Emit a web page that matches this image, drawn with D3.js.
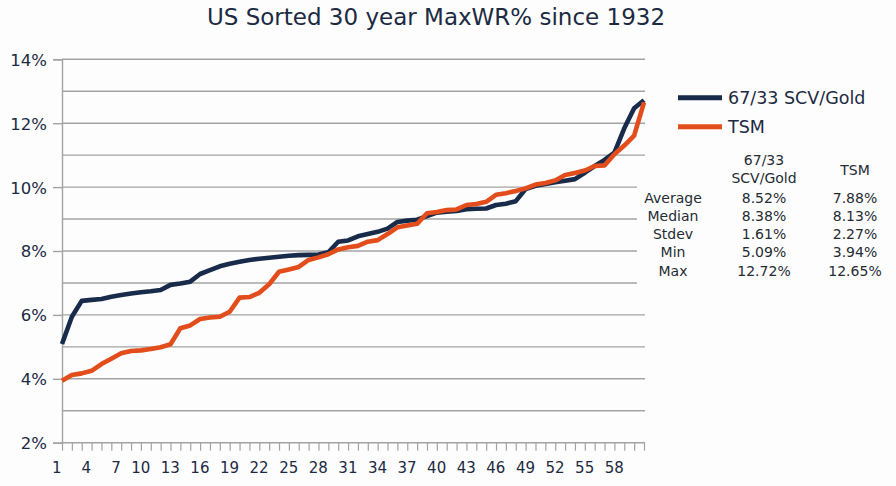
<!DOCTYPE html>
<html>
<head>
<meta charset="utf-8">
<script src="https://cdn.jsdelivr.net/npm/d3@7/dist/d3.min.js"></script>
<style>
  html, body { margin: 0; padding: 0; background: #fdfdfd; }
  svg { display: block; font-family: "DejaVu Sans", sans-serif; }
</style>
</head>
<body>
<svg id="chart" width="896" height="486"></svg>
<script>
const title = "US Sorted 30 year MaxWR% since 1932";
const categories = [1,2,3,4,5,6,7,8,9,10,11,12,13,14,15,16,17,18,19,20,
  21,22,23,24,25,26,27,28,29,30,31,32,33,34,35,36,37,38,39,40,
  41,42,43,44,45,46,47,48,49,50,51,52,53,54,55,56,57,58,59,60];
const xTickLabels = [1,4,7,10,13,16,19,22,25,28,31,34,37,40,43,46,49,52,55,58];
const yTickValues = [2,4,6,8,10,12,14];
const yGridValues = [3,4,5,6,7,8,9,10,11,12,13,14];

const seriesNames = ["67/33 SCV/Gold", "TSM"];
const scvGold = [5.09,5.94,6.44,6.47,6.50,6.57,6.62,6.67,6.71,6.74,
  6.78,6.94,6.98,7.04,7.28,7.40,7.52,7.60,7.66,7.72,
  7.76,7.79,7.82,7.85,7.87,7.88,7.89,7.96,8.29,8.33,
  8.46,8.53,8.60,8.70,8.91,8.95,8.98,9.09,9.20,9.23,
  9.25,9.31,9.32,9.33,9.44,9.48,9.56,9.94,10.04,10.10,
  10.15,10.20,10.25,10.45,10.66,10.85,11.08,11.84,12.47,12.72];
const tsm = [3.94,4.12,4.17,4.25,4.46,4.63,4.80,4.87,4.89,4.93,
  4.99,5.08,5.58,5.67,5.87,5.92,5.94,6.10,6.54,6.56,
  6.69,6.96,7.35,7.42,7.50,7.72,7.80,7.90,8.05,8.12,
  8.16,8.29,8.34,8.53,8.74,8.80,8.85,9.18,9.22,9.28,
  9.30,9.44,9.47,9.54,9.76,9.81,9.88,9.96,10.08,10.13,
  10.21,10.38,10.44,10.52,10.66,10.68,11.03,11.30,11.61,12.65];

const statLabels = ["Average","Median","Stdev","Min","Max"];
const statScv = ["8.52%","8.38%","1.61%","5.09%","12.72%"];
const statTsm = ["7.88%","8.13%","2.27%","3.94%","12.65%"];

const colors = ["#182b4b", "#e34c1b"];
const textColor = "#1c2a42";
const gridColor = "#a3a3a3";

const svg = d3.select("#chart");
const plotL = 62, plotR = 644, plotT = 59.3, plotB = 442.7;

const x = d3.scalePoint().domain(categories).range([plotL, plotR]);
const y = d3.scaleLinear().domain([2, 14]).range([plotB, plotT]);

// title
svg.append("text").attr("x", 436).attr("y", 25).attr("text-anchor", "middle")
  .attr("font-size", 23).attr("fill", textColor).text(title);

// gridlines
svg.append("g").selectAll("line").data(yGridValues).join("line")
  .attr("x1", plotL).attr("x2", plotR + 1)
  .attr("y1", d => y(d)).attr("y2", d => y(d))
  .attr("stroke", gridColor).attr("stroke-width", 1.4);

// y axis
const yAxis = svg.append("g").attr("transform", `translate(${plotL},0)`)
  .call(d3.axisLeft(y).tickValues(yTickValues).tickSize(9).tickPadding(6).tickFormat(d => d + "%"));
yAxis.select(".domain").attr("stroke", gridColor).attr("stroke-width", 1.4);
yAxis.selectAll(".tick line").attr("stroke", gridColor).attr("stroke-width", 1.4);
yAxis.selectAll(".tick text").attr("font-size", 16.5).attr("fill", textColor)
  .attr("font-family", "DejaVu Sans, sans-serif").attr("dy", "0.36em");

// x axis
const xAxis = svg.append("g").attr("transform", `translate(0,${plotB})`)
  .call(d3.axisBottom(x).tickSize(8).tickFormat(d => xTickLabels.includes(d) ? String(d) : ""));
xAxis.select(".domain").attr("stroke", gridColor).attr("stroke-width", 1.4)
  .attr("d", `M${plotL},0H${plotR + 1}`);
xAxis.selectAll(".tick line").attr("stroke", gridColor).attr("stroke-width", 1.2);
xAxis.selectAll(".tick text").attr("font-size", 15).attr("fill", textColor)
  .attr("font-family", "DejaVu Sans, sans-serif")
  .attr("text-anchor", "end").attr("x", -1).attr("y", 30.5).attr("dy", 0);

// table background (covers grid ends)
svg.append("rect").attr("x", 637).attr("y", 168).attr("width", 259).attr("height", 130)
  .attr("fill", "#fdfdfd");

// lines
const line = d3.line().x((d, i) => x(categories[i])).y(d => y(d));
[scvGold, tsm].forEach((s, k) => {
  svg.append("path").datum(s).attr("d", line).attr("fill", "none")
    .attr("stroke", colors[k]).attr("stroke-width", 4.6)
    .attr("stroke-linejoin", "round").attr("stroke-linecap", "butt");
});

// legend
const legY = [97.7, 126.7];
seriesNames.forEach((n, k) => {
  svg.append("line").attr("x1", 678).attr("x2", 722).attr("y1", legY[k]).attr("y2", legY[k])
    .attr("stroke", colors[k]).attr("stroke-width", 5);
  svg.append("text").attr("x", 728).attr("y", legY[k] + 6.2).attr("font-size", 17.5)
    .attr("fill", textColor).text(n);
});

// stats table
const tcol = "#262b33";
const tg = svg.append("g").attr("font-size", 14).attr("fill", tcol).attr("text-anchor", "middle");
tg.append("text").attr("x", 764).attr("y", 165).text("67/33");
tg.append("text").attr("x", 764).attr("y", 183.3).text("SCV/Gold");
tg.append("text").attr("x", 855).attr("y", 175).text("TSM");
statLabels.forEach((l, i) => {
  const yy = 202.7 + i * 18.25;
  tg.append("text").attr("x", 673).attr("y", yy).text(l);
  tg.append("text").attr("x", 764).attr("y", yy).text(statScv[i]);
  tg.append("text").attr("x", 855).attr("y", yy).text(statTsm[i]);
});
</script>
</body>
</html>
